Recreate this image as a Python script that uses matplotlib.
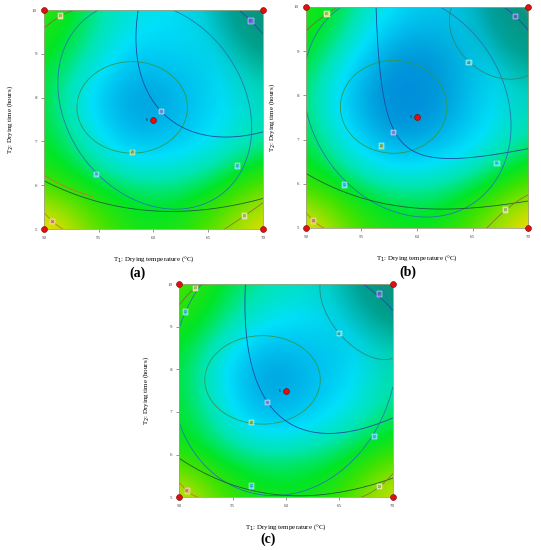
import numpy as np
import matplotlib
matplotlib.use("Agg")
import matplotlib.pyplot as plt
from matplotlib.colors import LinearSegmentedColormap

plt.rcParams['font.family'] = ['Liberation Serif', 'DejaVu Serif']

# ---------------- data ----------------
temp_ticks = [50, 55, 60, 65, 70]
time_ticks = [5, 6, 7, 8, 9, 10]
grid_T = [50, 54, 58, 62, 66, 70]          # vertex columns (°C)
grid_t = [10, 9, 8, 7, 6, 5]               # vertex rows (hours), top to bottom

# colour-scale value (0 = blue ... 1 = orange) at the grid vertices
hue_a = [[0.60, 0.45, 0.35, 0.30, 0.33, 0.40],
         [0.52, 0.43, 0.25, 0.27, 0.31, 0.40],
         [0.50, 0.28, 0.09, 0.15, 0.29, 0.38],
         [0.51, 0.38, 0.18, 0.22, 0.31, 0.40],
         [0.58, 0.50, 0.45, 0.44, 0.49, 0.64],
         [0.96, 0.70, 0.54, 0.54, 0.68, 0.90]]
hue_b = [[0.57, 0.46, 0.30, 0.25, 0.33, 0.40],
         [0.52, 0.36, 0.10, 0.12, 0.30, 0.38],
         [0.47, 0.18, 0.02, 0.08, 0.28, 0.36],
         [0.49, 0.30, 0.10, 0.17, 0.30, 0.42],
         [0.56, 0.46, 0.41, 0.42, 0.47, 0.62],
         [0.93, 0.64, 0.53, 0.53, 0.70, 0.94]]
hue_c = [[0.64, 0.50, 0.42, 0.36, 0.35, 0.40],
         [0.54, 0.44, 0.30, 0.28, 0.30, 0.38],
         [0.50, 0.30, 0.10, 0.17, 0.27, 0.40],
         [0.51, 0.36, 0.14, 0.22, 0.33, 0.45],
         [0.54, 0.46, 0.43, 0.44, 0.48, 0.58],
         [0.88, 0.62, 0.53, 0.53, 0.62, 0.87]]

# darkening toward the upper-right corner
shade_a = [[0, 0, 0, 0.00, 0.45, 1.0],
           [0, 0, 0, 0.00, 0.25, 0.60],
           [0, 0, 0, 0.00, 0.00, 0.15],
           [0, 0, 0, 0, 0, 0], [0, 0, 0, 0, 0, 0], [0, 0, 0, 0, 0, 0]]
shade_b = [[0, 0, 0, 0.10, 0.55, 1.0],
           [0, 0, 0, 0.00, 0.35, 0.65],
           [0, 0, 0, 0.00, 0.05, 0.25],
           [0, 0, 0, 0, 0, 0], [0, 0, 0, 0, 0, 0], [0, 0, 0, 0, 0, 0]]
shade_c = [[0, 0, 0, 0.05, 0.50, 1.0],
           [0, 0, 0, 0.00, 0.30, 0.55],
           [0, 0, 0, 0.00, 0.00, 0.15],
           [0, 0, 0, 0, 0, 0], [0, 0, 0, 0, 0, 0], [0, 0, 0, 0, 0, 0]]

# contour lines: points (temperature, time)
green_a = [(53.0, 7.8), (54.45, 8.51), (58.0, 8.82), (61.65, 8.51), (63.1, 7.8), (61.65, 7.05), (58.0, 6.73), (54.45, 7.05)]
blue_a = [(58.6, 10.0), (58.8, 8.6), (60.1, 7.83), (60.75, 7.68), (62.4, 7.37), (64.2, 7.18), (66.7, 7.09), (70.0, 7.22)]
teal_a = [(53.3, 10.0), (52.5, 8.97), (52.0, 7.5), (54.8, 6.25), (57.2, 5.7), (59.7, 5.48), (64.5, 5.7),
          (67.65, 6.44), (69.4, 7.6), (68.8, 8.13), (67.3, 8.74), (64.2, 9.5), (61.2, 10.0)]
bottom_a = [(50.0, 6.1), (53.0, 5.78), (56.0, 5.55), (60.0, 5.42), (64.0, 5.43), (67.0, 5.52), (70.0, 5.7)]
corner_a = [(67.8, 10.0), (68.9, 9.75), (70.0, 9.45)]
orange_a = [(50.0, 6.23), (51.5, 6.02), (53.0, 5.86), (54.5, 5.74)]
bl_a = [(50.0, 5.38), (50.8, 5.17), (51.7, 5.0)]
br_a = [(66.5, 5.0), (68.3, 5.3), (70.0, 5.6)]
tl_a = [(50.0, 9.58), (51.5, 9.86), (52.8, 10.0)]

green_b = [(53.1, 7.74), (54.5, 8.48), (57.9, 8.79), (61.3, 8.48), (62.7, 7.74), (61.3, 7.0), (57.9, 6.69), (54.5, 7.0)]
blue_b = [(56.3, 10.0), (56.7, 8.65), (57.1, 7.74), (57.9, 7.16), (60.3, 6.73), (64.5, 6.58), (67.0, 6.65), (70.0, 6.8)]
teal_b = [(51.6, 10.0), (50.8, 9.0), (50.4, 8.0), (50.4, 7.44), (51.5, 6.6), (53.45, 5.97), (57.0, 5.45),
          (61.2, 5.29), (64.8, 5.5), (67.2, 6.46), (68.7, 7.44), (68.4, 8.16), (66.6, 8.91), (63.9, 9.67), (60.7, 10.0)]
bottom_b = [(50.0, 6.24), (53.0, 5.85), (57.0, 5.55), (61.0, 5.45), (65.0, 5.45), (68.0, 5.52), (70.0, 5.62)]
circle_b = [(63.1, 10.0), (63.3, 9.29), (64.7, 8.74), (66.3, 8.46), (68.4, 8.42), (70.0, 8.42)]
corner_b = [(67.8, 10.0), (68.9, 9.78), (70.0, 9.48)]
bl_b = [(50.0, 5.35), (50.7, 5.16), (51.6, 5.0)]
br_b = [(66.3, 5.0), (68.0, 5.41), (70.0, 5.75)]
tl_b = [(50.0, 9.45), (51.0, 9.68), (51.9, 9.84), (52.8, 10.0)]

green_c = [(52.4, 7.75), (54.0, 8.49), (57.8, 8.79), (61.6, 8.49), (63.2, 7.75), (61.6, 7.01), (57.8, 6.72), (54.0, 7.01)]
blue_c = [(56.2, 10.0), (56.3, 8.76), (57.25, 7.75), (58.25, 7.22), (60.4, 6.73), (63.5, 6.5), (67.0, 6.6), (69.9, 6.85)]
teal_c = [(51.7, 10.0), (50.6, 9.35), (50.0, 8.4), (49.6, 7.5), (50.0, 6.5), (51.5, 5.8), (53.5, 5.45), (56.8, 5.27),
          (60.0, 5.2), (63.5, 5.3), (66.5, 5.8), (68.3, 6.42), (69.4, 7.2), (70.1, 8.0)]
bottom_c = [(50.0, 5.91), (53.0, 5.5), (56.0, 5.2), (60.1, 5.05), (64.0, 5.08), (67.0, 5.22), (70.0, 5.45)]
circle_c = [(63.2, 10.0), (63.7, 9.35), (65.0, 8.84), (67.2, 8.38), (70.0, 8.26)]
corner_c = [(67.2, 10.0), (68.75, 9.7), (70.0, 9.39)]
bl_c = [(50.0, 5.35), (50.75, 5.15), (51.8, 5.0)]
br_c = [(67.0, 5.0), (68.75, 5.25), (70.0, 5.55)]
tl_c = [(50.0, 9.5), (51.5, 9.9), (52.5, 10.0)]

# label boxes: (temperature, time, text, style)
labels_a = [(51.5, 9.86, "0.8", "tl"), (60.75, 7.68, "5.0", "blue"), (58.1, 6.75, "2.6", "green"),
            (54.8, 6.25, "3.2", "teal"), (67.65, 6.44, "3.2", "teal"), (68.3, 5.3, "0.8", "br"),
            (50.8, 5.17, "0.4", "orange"), (68.9, 9.75, "6.0", "corner")]
labels_b = [(51.9, 9.84, "0.8", "tl"), (57.9, 7.16, "5.0", "blue"), (56.8, 6.86, "2.6", "green"),
            (53.45, 5.97, "3.2", "teal"), (67.2, 6.46, "3.2", "teal"), (68.0, 5.41, "0.8", "br"),
            (50.7, 5.16, "0.4", "orange"), (68.9, 9.78, "6.0", "corner"), (64.7, 8.74, "4.4", "circle")]
labels_c = [(51.5, 9.9, "0.8", "tl"), (50.6, 9.35, "3.2", "teal"), (58.25, 7.22, "5.0", "blue"),
            (56.8, 6.75, "2.6", "green"), (56.8, 5.27, "3.2", "teal"), (68.3, 6.42, "3.2", "teal"),
            (68.75, 5.25, "0.8", "br"), (50.75, 5.15, "0.4", "orange"), (68.75, 9.77, "6.0", "corner"),
            (65.0, 8.84, "4.4", "circle")]

design_T = [50, 70, 50, 70]
design_t = [5, 5, 10, 10]
center_T, center_t, center_n = 60, 7.5, "6"

# ---------------- styles ----------------
line_col = {"green": "#2f9a50", "blue": "#1f4a9e", "teal": "#2478b0", "bottom": "#1f5c3c",
            "corner": "#3a40b0", "orange": "#c0782a", "bl": "#c0782a", "br": "#8a7a2a",
            "tl": "#6b7a2a", "circle": "#2a8a7a"}
box_col = {"green": "#86d486", "blue": "#8ea6f0", "teal": "#45dbee", "corner": "#6f74e6",
           "orange": "#f2b27a", "br": "#cfe27a", "tl": "#d6e47a", "circle": "#58d9dc"}

hue_cmap = LinearSegmentedColormap.from_list("de", [
    (0.00, (0.00, 0.49, 0.86)), (0.12, (0.00, 0.61, 0.86)), (0.22, (0.00, 0.76, 0.94)),
    (0.30, (0.00, 0.88, 0.98)), (0.40, (0.00, 0.90, 0.70)), (0.50, (0.00, 0.90, 0.15)),
    (0.60, (0.25, 0.89, 0.00)), (0.72, (0.58, 0.88, 0.00)), (0.85, (0.90, 0.87, 0.00)),
    (1.00, (0.93, 0.62, 0.08))])
shade_cmap = LinearSegmentedColormap.from_list("shade", [
    (0.00, (0.0, 0.30, 0.28, 0.0)), (0.25, (0.0, 0.30, 0.28, 0.12)), (0.55, (0.0, 0.32, 0.28, 0.45)),
    (0.80, (0.05, 0.36, 0.33, 0.58)), (0.92, (0.48, 0.50, 0.52, 0.85)), (1.00, (0.58, 0.56, 0.60, 0.95))])
shade_cmap.set_under((0, 0, 0, 0))


def conic_field(pts, TT, tt):
    # closed/curved lines: level set of a quadratic response fitted through the read points
    p = np.asarray(pts, float)
    x = (p[:, 0] - 60) / 10
    y = (p[:, 1] - 7.5) / 2.5
    A = np.column_stack([x * x, x * y, y * y, x, y, np.ones_like(x)])
    c = np.linalg.svd(A)[2][-1]
    X = (TT - 60) / 10
    Y = (tt - 7.5) / 2.5
    return c[0] * X * X + c[1] * X * Y + c[2] * Y * Y + c[3] * X + c[4] * Y + c[5]


def smooth_curve(ax, pts, color):
    # open lines that run across the panel: smooth time-vs-temperature curve through the points
    p = np.asarray(pts, float)
    deg = min(3, len(p) - 1)
    coef = np.polyfit(p[:, 0], p[:, 1], deg)
    Ts = np.linspace(p[:, 0].min(), p[:, 0].max(), 200)
    ax.plot(Ts, np.polyval(coef, Ts), color=color, lw=0.6, zorder=2)


def panel(ax, hue, shade, conics, curves, labels):
    ext = (48, 72, 4.5, 10.5)
    ax.imshow(np.array(hue), extent=ext, origin="upper", cmap=hue_cmap, vmin=0, vmax=1,
              interpolation="bicubic", interpolation_stage="data", aspect="auto", zorder=0)
    ax.imshow(np.array(shade), extent=ext, origin="upper", cmap=shade_cmap, vmin=0.001, vmax=1,
              interpolation="bicubic", interpolation_stage="data", aspect="auto", zorder=1)
    TT, tt = np.meshgrid(np.linspace(50, 70, 400), np.linspace(5, 10, 400))
    for pts, key in conics:
        F = conic_field(pts, TT, tt)
        ax.contour(TT, tt, F, levels=[0], colors=[line_col[key]], linewidths=0.6, zorder=2)
    for pts, key in curves:
        smooth_curve(ax, pts, line_col[key])
    for T, t, txt, key in labels:
        ax.text(T, t, txt, fontsize=2.2, ha="center", va="center", color="#334", zorder=4,
                bbox=dict(boxstyle="square,pad=0.25", fc=box_col[key], ec="white", lw=0.3))
    ax.scatter(design_T, design_t, s=18, c="#e01010", edgecolors="#700", linewidths=0.4,
               zorder=6, clip_on=False)
    ax.scatter([center_T], [center_t], s=18, c="#e01010", edgecolors="#700", linewidths=0.4, zorder=6)
    ax.text(center_T - 0.5, center_t, center_n, fontsize=2.5, ha="right", va="center", zorder=6)
    ax.set_xlim(50, 70)
    ax.set_ylim(5, 10)
    ax.set_xticks(temp_ticks)
    ax.set_yticks(time_ticks)
    ax.tick_params(labelsize=3.6, length=2, width=0.4, pad=3, colors="#444")
    for s in ax.spines.values():
        s.set_color("#a0a080")
        s.set_linewidth(0.6)
    ax.set_xlabel("T$_1$: Drying temperature (°C)", fontsize=5, labelpad=10)
    ax.set_ylabel("T$_2$: Drying time (hours)", fontsize=5, labelpad=12)


fig = plt.figure(figsize=(5.41, 5.50), dpi=100)
axa = fig.add_axes([0.0813, 0.5836, 0.4048, 0.3982])
axb = fig.add_axes([0.5656, 0.5855, 0.4104, 0.4018])
axc = fig.add_axes([0.3314, 0.0958, 0.3945, 0.3878])

panel(axa, hue_a, shade_a,
      [(green_a, "green"), (blue_a, "blue"), (teal_a, "teal")],
      [(bottom_a, "bottom"), (corner_a, "corner"), (orange_a, "orange"), (bl_a, "bl"), (br_a, "br"), (tl_a, "tl")],
      labels_a)
panel(axb, hue_b, shade_b,
      [(green_b, "green"), (blue_b, "blue"), (teal_b, "teal"), (circle_b, "circle")],
      [(bottom_b, "bottom"), (corner_b, "corner"), (bl_b, "bl"), (br_b, "br"), (tl_b, "tl")],
      labels_b)
panel(axc, hue_c, shade_c,
      [(green_c, "green"), (blue_c, "blue"), (teal_c, "teal"), (circle_c, "circle")],
      [(bottom_c, "bottom"), (corner_c, "corner"), (bl_c, "bl"), (br_c, "br"), (tl_c, "tl")],
      labels_c)

fig.text(137 / 541, 1 - 273 / 550, "(a)", fontsize=10, fontweight="bold", ha="center", va="center")
fig.text(408 / 541, 1 - 272 / 550, "(b)", fontsize=10, fontweight="bold", ha="center", va="center")
fig.text(268 / 541, 1 - 539 / 550, "(c)", fontsize=10, fontweight="bold", ha="center", va="center")

fig.savefig("out.png", dpi=100)
